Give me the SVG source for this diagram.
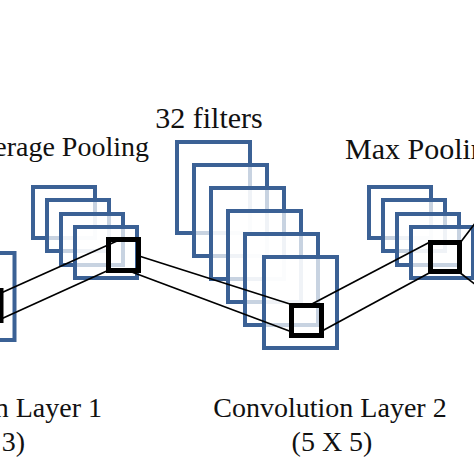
<svg xmlns="http://www.w3.org/2000/svg" width="474" height="474" viewBox="0 0 474 474">
<style>
.fm{fill:#ffffff;fill-opacity:0.72;stroke:#3b6195;stroke-width:4}
.k{fill:none;stroke:#000;stroke-width:5}
.c{stroke:#000;stroke-width:1.7;fill:none}
text{font-family:"Liberation Serif","Times New Roman",serif;font-size:28px;fill:#111}
.t{font-size:30px}
</style>
<rect width="474" height="474" fill="#fff"/>
<g id="conv1">
<rect class="fm" x="-60" y="253" width="74.5" height="87"/>
<rect class="k" x="-30" y="290.5" width="31" height="30"/>
</g>
<g id="avgpool">
<rect class="fm" x="33" y="187" width="62" height="51"/>
<rect class="fm" x="47" y="200" width="62" height="51"/>
<rect class="fm" x="61" y="214" width="62" height="51"/>
<rect class="fm" x="75" y="227" width="62" height="51"/>
<rect class="k" x="108.5" y="239.5" width="30" height="31"/>
</g>
<g id="conv2">
<rect class="fm" x="177" y="142" width="73" height="91"/>
<rect class="fm" x="194" y="165" width="73" height="91"/>
<rect class="fm" x="211" y="188" width="73" height="91"/>
<rect class="fm" x="228" y="211" width="73" height="91"/>
<rect class="fm" x="245" y="234" width="73" height="91"/>
<rect class="fm" x="264" y="257" width="73" height="91"/>
<rect class="k" x="291.5" y="305.5" width="30" height="30"/>
</g>
<g id="maxpool">
<rect class="fm" x="369" y="187" width="62" height="51"/>
<rect class="fm" x="383" y="200" width="62" height="51"/>
<rect class="fm" x="397" y="214" width="62" height="51"/>
<rect class="fm" x="411" y="227" width="62" height="51"/>
<rect class="k" x="430.5" y="242.5" width="29" height="29"/>
</g>
<g id="connectors">
<line class="c" x1="1" y1="293" x2="117" y2="241"/>
<line class="c" x1="1" y1="319" x2="109" y2="270"/>
<line class="c" x1="139" y1="256" x2="293" y2="305"/>
<line class="c" x1="129" y1="271" x2="292" y2="332"/>
<line class="c" x1="310" y1="305" x2="430" y2="242"/>
<line class="c" x1="322" y1="331" x2="431" y2="272"/>
<line class="c" x1="460" y1="243" x2="476" y2="222"/>
<line class="c" x1="459" y1="272" x2="476" y2="285"/>
</g>
<g id="labels">
<text class="t" x="209" y="128" text-anchor="middle">32 filters</text>
<text x="149" y="156" text-anchor="end">erage Pooling</text>
<text class="t" x="345" y="159">Max Pooling</text>
<text x="102" y="417" text-anchor="end">n Layer 1</text>
<text x="25" y="451" text-anchor="end">3)</text>
<text x="330" y="417" text-anchor="middle">Convolution Layer 2</text>
<text x="332" y="451" text-anchor="middle">(5 X 5)</text>
</g>
</svg>
